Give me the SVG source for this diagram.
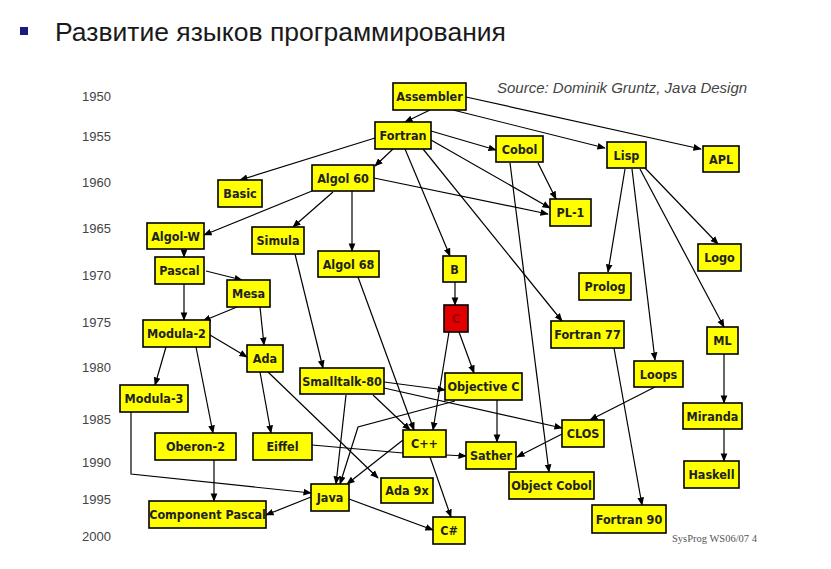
<svg xmlns="http://www.w3.org/2000/svg" width="831" height="569" viewBox="0 0 831 569">
<style>
.n rect{fill:#ffff00;stroke:#000;stroke-width:1.6}
.n text{font-family:"DejaVu Sans Condensed","DejaVu Sans",sans-serif;font-size:12.5px;font-weight:bold;fill:#222;text-anchor:middle;dominant-baseline:central}
.y{font-family:"Liberation Sans",Arial,sans-serif;font-size:13px;fill:#444}
#edges path{fill:none;stroke:#000;stroke-width:1.2;marker-end:url(#a)}
</style>
<defs><marker id="a" viewBox="0 0 10 10" refX="9" refY="5" markerWidth="7" markerHeight="7" orient="auto-start-reverse"><path d="M0,1L10,5L0,9z" fill="#000"/></marker></defs>
<rect width="831" height="569" fill="#fff"/>
<rect x="20" y="27" width="8" height="8" fill="#1a1a80"/>
<text x="55" y="41" font-family="Liberation Sans,Arial,sans-serif" font-size="26.5" fill="#1a1a1a">Развитие языков программирования</text>
<text x="497" y="93" font-family="Liberation Sans,Arial,sans-serif" font-size="15" font-style="italic" fill="#444">Source: Dominik Gruntz, Java Design</text>
<text x="672" y="542" font-family="Liberation Serif,serif" font-size="10.5" fill="#555">SysProg WS06/07  4</text>
<g>
<text class="y" x="82" y="101">1950</text><text class="y" x="82" y="141">1955</text><text class="y" x="82" y="187">1960</text><text class="y" x="82" y="233">1965</text><text class="y" x="82" y="280">1970</text><text class="y" x="82" y="327">1975</text><text class="y" x="82" y="372">1980</text><text class="y" x="82" y="424">1985</text><text class="y" x="82" y="467">1990</text><text class="y" x="82" y="504">1995</text><text class="y" x="82" y="541">2000</text>
</g>
<g id="edges">
<path d="M430,110L405,122"/>
<path d="M453,110L605,148"/>
<path d="M466,97L701,149"/>
<path d="M375,138L240,180"/>
<path d="M393,149L375,166"/>
<path d="M431,131L496,150"/>
<path d="M431,140L550,208"/>
<path d="M405,149L450,256"/>
<path d="M423,149L562,321"/>
<path d="M374,178L548,214"/>
<path d="M312,191L204,235"/>
<path d="M333,192L293,227"/>
<path d="M352,191L352,251"/>
<path d="M538,163L556,199"/>
<path d="M510,163L549,472"/>
<path d="M625,169L608,272"/>
<path d="M632,169L655,360"/>
<path d="M640,169L724,327"/>
<path d="M645,168L718,244"/>
<path d="M184,250L184,257"/>
<path d="M206,271L242,280"/>
<path d="M184,284L184,320"/>
<path d="M237,307L203,321"/>
<path d="M260,307L264,345"/>
<path d="M295,254L323,368"/>
<path d="M358,277L414,430"/>
<path d="M455,282L455,305"/>
<path d="M449,332L433,430"/>
<path d="M459,332L474,373"/>
<path d="M210,335L247,357"/>
<path d="M166,347L155,385"/>
<path d="M196,347L213,433"/>
<path d="M260,372L271,433"/>
<path d="M268,372L378,478"/>
<path d="M384,382L445,390"/>
<path d="M384,388L562,428"/>
<path d="M373,395L410,430"/>
<path d="M346,395L336,484"/>
<path d="M455,401L358,427L340,484"/>
<path d="M497,400L497,442"/>
<path d="M403,440L347,484"/>
<path d="M446,455L466,456"/>
<path d="M430,457L451,517"/>
<path d="M312,445L403,453" style="marker-end:none"/>
<path d="M562,434L517,457"/>
<path d="M655,387L590,420"/>
<path d="M614,348L642,505"/>
<path d="M724,354L724,403"/>
<path d="M724,429L724,461"/>
<path d="M131,412L131,474L311,493"/>
<path d="M214,460L214,501"/>
<path d="M311,497L266,515"/>
<path d="M349,499L433,530"/>
</g>
<g id="assembler" class="n"><rect x="393" y="83" width="73" height="27"/><text x="429.5" y="96.5">Assembler</text></g>
<g id="fortran" class="n"><rect x="375" y="122" width="56" height="27"/><text x="403" y="135.5">Fortran</text></g>
<g id="algol60" class="n"><rect x="312" y="165" width="62" height="26"/><text x="343" y="178">Algol 60</text></g>
<g id="basic" class="n"><rect x="218" y="180" width="44" height="27"/><text x="240" y="193.5">Basic</text></g>
<g id="algolw" class="n"><rect x="147" y="223" width="57" height="26"/><text x="175.5" y="236">Algol-W</text></g>
<g id="simula" class="n"><rect x="252" y="227" width="52" height="27"/><text x="278" y="240.5">Simula</text></g>
<g id="algol68" class="n"><rect x="318" y="251" width="61" height="26"/><text x="348.5" y="264">Algol 68</text></g>
<g id="b" class="n"><rect x="443" y="256" width="23" height="26"/><text x="454.5" y="269">B</text></g>
<g id="pascal" class="n"><rect x="155" y="257" width="49" height="27"/><text x="179.5" y="270.5">Pascal</text></g>
<g id="mesa" class="n"><rect x="227" y="280" width="43" height="27"/><text x="248.5" y="293.5">Mesa</text></g>
<g id="c" class="n"><rect x="444" y="305" width="24" height="27" style="fill:#e00000"/><text x="456" y="318.5" style="fill:#900">C</text></g>
<g id="cobol" class="n"><rect x="496" y="136" width="47" height="26"/><text x="519.5" y="149">Cobol</text></g>
<g id="lisp" class="n"><rect x="607" y="142" width="39" height="26"/><text x="626.5" y="155">Lisp</text></g>
<g id="apl" class="n"><rect x="703" y="146" width="36" height="26"/><text x="721" y="159">APL</text></g>
<g id="pl1" class="n"><rect x="550" y="199" width="41" height="27"/><text x="570.5" y="212.5">PL-1</text></g>
<g id="logo" class="n"><rect x="698" y="244" width="43" height="27"/><text x="719.5" y="257.5">Logo</text></g>
<g id="prolog" class="n"><rect x="579" y="273" width="52" height="27"/><text x="605" y="286.5">Prolog</text></g>
<g id="fortran77" class="n"><rect x="551" y="321" width="73" height="27"/><text x="587.5" y="334.5">Fortran 77</text></g>
<g id="ml" class="n"><rect x="707" y="327" width="31" height="27"/><text x="722.5" y="340.5">ML</text></g>
<g id="loops" class="n"><rect x="634" y="361" width="49" height="26"/><text x="658.5" y="374">Loops</text></g>
<g id="objc" class="n"><rect x="445" y="373" width="77" height="27"/><text x="483.5" y="386.5">Objective C</text></g>
<g id="miranda" class="n"><rect x="683" y="403" width="59" height="26"/><text x="712.5" y="416">Miranda</text></g>
<g id="clos" class="n"><rect x="562" y="420" width="42" height="27"/><text x="583" y="433.5">CLOS</text></g>
<g id="cpp" class="n"><rect x="403" y="430" width="43" height="27"/><text x="424.5" y="443.5">C++</text></g>
<g id="sather" class="n"><rect x="466" y="442" width="50" height="27"/><text x="491" y="455.5">Sather</text></g>
<g id="haskell" class="n"><rect x="684" y="461" width="55" height="27"/><text x="711.5" y="474.5">Haskell</text></g>
<g id="objcobol" class="n"><rect x="509" y="472" width="85" height="27"/><text x="551.5" y="485.5">Object Cobol</text></g>
<g id="fortran90" class="n"><rect x="592" y="505" width="74" height="28"/><text x="629" y="519">Fortran 90</text></g>
<g id="csharp" class="n"><rect x="433" y="517" width="32" height="27"/><text x="449" y="530.5">C#</text></g>
<g id="ada9x" class="n"><rect x="381" y="478" width="52" height="25"/><text x="407" y="490.5">Ada 9x</text></g>
<g id="modula2" class="n"><rect x="143" y="320" width="67" height="27"/><text x="176.5" y="333.5">Modula-2</text></g>
<g id="ada" class="n"><rect x="247" y="345" width="36" height="27"/><text x="265" y="358.5">Ada</text></g>
<g id="smalltalk" class="n"><rect x="300" y="368" width="84" height="26"/><text x="342" y="381">Smalltalk-80</text></g>
<g id="modula3" class="n"><rect x="120" y="385" width="68" height="27"/><text x="154" y="398.5">Modula-3</text></g>
<g id="oberon2" class="n"><rect x="155" y="433" width="81" height="27"/><text x="195.5" y="446.5">Oberon-2</text></g>
<g id="eiffel" class="n"><rect x="253" y="433" width="59" height="27"/><text x="282.5" y="446.5">Eiffel</text></g>
<g id="java" class="n"><rect x="311" y="484" width="38" height="27"/><text x="330" y="497.5">Java</text></g>
<g id="comppascal" class="n"><rect x="149" y="501" width="117" height="27"/><text x="207.5" y="514.5">Component Pascal</text></g>
</svg>
